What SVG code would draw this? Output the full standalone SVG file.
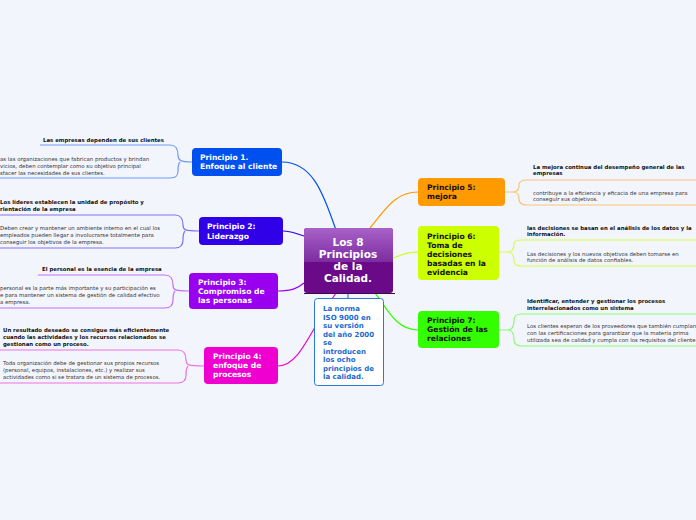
<svg xmlns="http://www.w3.org/2000/svg" width="696" height="520" viewBox="0 0 696 520">
<defs>
<linearGradient id="cg" x1="0" y1="0" x2="0" y2="1"><stop offset="0" stop-color="#a862c8"/><stop offset="1" stop-color="#7c2ca0"/></linearGradient>
<style>
.n{font-family:"DejaVu Sans",sans-serif;font-weight:bold;font-size:7.6px;fill:#fff}
.nd{font-family:"DejaVu Sans",sans-serif;font-weight:bold;font-size:7.6px;fill:#111}
.t{font-family:"DejaVu Sans",sans-serif;font-weight:bold;font-size:5.4px;fill:#111}
.d{font-family:"DejaVu Sans",sans-serif;font-size:5.4px;fill:#333}
.c{fill:none;stroke-width:1.2}
</style>
</defs>
<rect width="696" height="520" fill="#f3f5fc"/>
<g id="connectors">
<path class="c" stroke="#0050f0" d="M282,162 C315,162 325,200 336,230"/>
<path class="c" stroke="#3000e8" d="M283,231 C292,231 296,234 304,236"/>
<path class="c" stroke="#9a00f0" d="M278,291 C292,291 298,288 304,283"/>
<path class="c" stroke="#f000d0" d="M278,366 C300,366 310,330 336,293"/>
<path class="c" stroke="#ff9a00" d="M418,192 C395,192 385,210 370,228"/>
<path class="c" stroke="#ccff00" d="M418,252 C405,252 400,256 393,258"/>
<path class="c" stroke="#33ff00" d="M418,330 C395,330 385,305 375,293"/>
<path class="c" stroke="#2a7ad8" d="M348,293 V298"/>
<path class="c" stroke="#0050f0" d="M40,145 H170 C176,145 178,150 178,155 C178,160 180,162 192,162 M180,162 C178,164 178,169 178,171 C178,176 176,178 170,178 H0" opacity=".55"/>
<path class="c" stroke="#3000e8" d="M0,215 H175 C181,215 183,220 183,225 C183,230 185,231 199,231 M185,231 C183,233 183,238 183,240 C183,245 181,248 175,248 H0" opacity=".55"/>
<path class="c" stroke="#9a00f0" d="M38,275 H165 C171,275 173,280 173,285 C173,290 175,291 189,291 M175,291 C173,293 173,298 173,300 C173,305 171,308 165,308 H0" opacity=".55"/>
<path class="c" stroke="#f000d0" d="M0,350 H178 C184,350 186,355 186,360 C186,365 188,366 204,366 M188,366 C186,368 186,373 186,375 C186,380 184,383 178,383 H0" opacity=".55"/>
<path class="c" stroke="#ff9a00" d="M505,192 H513 C518,192 519,188 519,185 C519,182 521,180 527,180 H696 M513,192 C518,192 519,196 519,199 C519,202 521,205 527,205 H696" opacity=".55"/>
<path class="c" stroke="#ccff00" d="M499,252 H508 C513,252 514,247 514,244 C514,241 516,240 522,240 H696 M508,252 C513,252 514,258 514,261 C514,264 516,266 522,266 H696" opacity=".7"/>
<path class="c" stroke="#33ff00" d="M499,330 H508 C513,330 514,324 514,320 C514,317 516,314 522,314 H696 M508,330 C513,330 514,336 514,340 C514,343 516,346 522,346 H696" opacity=".55"/>
</g>
<g id="center">
<rect x="304" y="228" width="89" height="65" rx="3" fill="#6a0a88"/>
<path d="M307,228 H390 Q393,228 393,231 V262 H304 V231 Q304,228 307,228 Z" fill="url(#cg)"/>
<line x1="304" y1="293.5" x2="395" y2="293.5" stroke="#3a0a50" stroke-width="1"/>
<text class="n" font-size="10.5" text-anchor="middle" style="font-size:10.5px"><tspan x="348" y="246">Los 8</tspan><tspan x="348" y="258">Principios</tspan><tspan x="348" y="270">de la</tspan><tspan x="348" y="282">Calidad.</tspan></text>
</g>
<g id="note">
<rect x="314.5" y="298.5" width="69" height="87" rx="3" fill="#fff" stroke="#2a7ad8"/>
<text class="n" style="fill:#1a6ad0;font-size:7px"><tspan x="323" y="311">La norma</tspan><tspan x="323" y="319.5">ISO 9000 en</tspan><tspan x="323" y="328">su versión</tspan><tspan x="323" y="336.5">del año 2000</tspan><tspan x="323" y="345">se</tspan><tspan x="323" y="353.5">introducen</tspan><tspan x="323" y="362">los ocho</tspan><tspan x="323" y="370.5">principios de</tspan><tspan x="323" y="379">la calidad.</tspan></text>
</g>
<g id="p1"><rect x="192" y="148" width="90" height="28" rx="4" fill="#0050f0"/><text class="n"><tspan x="200" y="160">Principio 1.</tspan><tspan x="200" y="169">Enfoque al cliente</tspan></text>
<text class="t" x="43" y="142">Las empresas dependen de sus clientes</text>
<text class="d"><tspan x="0" y="161">as las organizaciones que fabrican productos y brindan</tspan><tspan x="0" y="168">vicios, deben contemplar como su objetivo principal</tspan><tspan x="0" y="175">sfacer las necesidades de sus clientes.</tspan></text></g>
<g id="p2"><rect x="199" y="217" width="84" height="28" rx="4" fill="#3000e8"/><text class="n"><tspan x="207" y="229">Principio 2:</tspan><tspan x="207" y="239">Liderazgo</tspan></text>
<text class="t"><tspan x="0" y="204">Los líderes establecen la unidad de propósito y</tspan><tspan x="0" y="211">rientación de la empresa</tspan></text>
<text class="d"><tspan x="0" y="230">Deben crear y mantener un ambiente interno en el cual los</tspan><tspan x="0" y="237">empleados pueden llegar a involucrarse totalmente para</tspan><tspan x="0" y="244">conseguir los objetivos de la empresa.</tspan></text></g>
<g id="p3"><rect x="189" y="273" width="89" height="36" rx="4" fill="#9a00f0"/><text class="n"><tspan x="198" y="285">Principio 3:</tspan><tspan x="198" y="294">Compromiso de</tspan><tspan x="198" y="303">las personas</tspan></text>
<text class="t" x="42" y="271">El personal es la esencia de la empresa</text>
<text class="d"><tspan x="0" y="290">personal es la parte más importante y su participación es</tspan><tspan x="0" y="297">e para mantener un sistema de gestión de calidad efectivo</tspan><tspan x="0" y="304">a empresa.</tspan></text></g>
<g id="p4"><rect x="204" y="347" width="74" height="37" rx="4" fill="#f000d0"/><text class="n"><tspan x="213" y="359">Principio 4:</tspan><tspan x="213" y="368">enfoque de</tspan><tspan x="213" y="377">procesos</tspan></text>
<text class="t"><tspan x="3" y="332">Un resultado deseado se consigue más eficientemente</tspan><tspan x="3" y="339">cuando las actividades y los recursos relacionados se</tspan><tspan x="3" y="346">gestionan como un proceso.</tspan></text>
<text class="d"><tspan x="3" y="365">Toda organización debe de gestionar sus propios recursos</tspan><tspan x="3" y="372">(personal, equipos, instalaciones, etc.) y realizar sus</tspan><tspan x="3" y="379">actividades como si se tratara de un sistema de procesos.</tspan></text></g>
<g id="p5"><rect x="418" y="178" width="87" height="28" rx="4" fill="#ff9a00"/><text class="nd"><tspan x="427" y="190">Principio 5:</tspan><tspan x="427" y="199">mejora</tspan></text>
<text class="t"><tspan x="533" y="169">La mejora continua del desempeño general de las</tspan><tspan x="533" y="175">empresas</tspan></text>
<text class="d"><tspan x="533" y="195">contribuye a la eficiencia y eficacia de una empresa para</tspan><tspan x="533" y="201">conseguir sus objetivos.</tspan></text></g>
<g id="p6"><rect x="418" y="226" width="81" height="54" rx="4" fill="#ccff00"/><text class="nd"><tspan x="427" y="239">Principio 6:</tspan><tspan x="427" y="248">Toma de</tspan><tspan x="427" y="257">decisiones</tspan><tspan x="427" y="266">basadas en la</tspan><tspan x="427" y="275">evidencia</tspan></text>
<text class="t"><tspan x="527" y="230">las decisiones se basan en el análisis de los datos y la</tspan><tspan x="527" y="236">información.</tspan></text>
<text class="d"><tspan x="527" y="256">Las decisiones y los nuevos objetivos deben tomarse en</tspan><tspan x="527" y="262">función de análisis de datos confiables.</tspan></text></g>
<g id="p7"><rect x="418" y="311" width="81" height="37" rx="4" fill="#33ff00"/><text class="nd"><tspan x="427" y="323">Principio 7:</tspan><tspan x="427" y="332">Gestión de las</tspan><tspan x="427" y="341">relaciones</tspan></text>
<text class="t"><tspan x="527" y="303">Identificar, entender y gestionar los procesos</tspan><tspan x="527" y="310">interrelacionados como un sistema</tspan></text>
<text class="d"><tspan x="527" y="328"> Los clientes esperan de los proveedores que también cumplan</tspan><tspan x="527" y="335">con las certificaciones para garantizar que la materia prima</tspan><tspan x="527" y="342">utilizada sea de calidad y cumpla con los requisitos del cliente</tspan></text></g>
</svg>
